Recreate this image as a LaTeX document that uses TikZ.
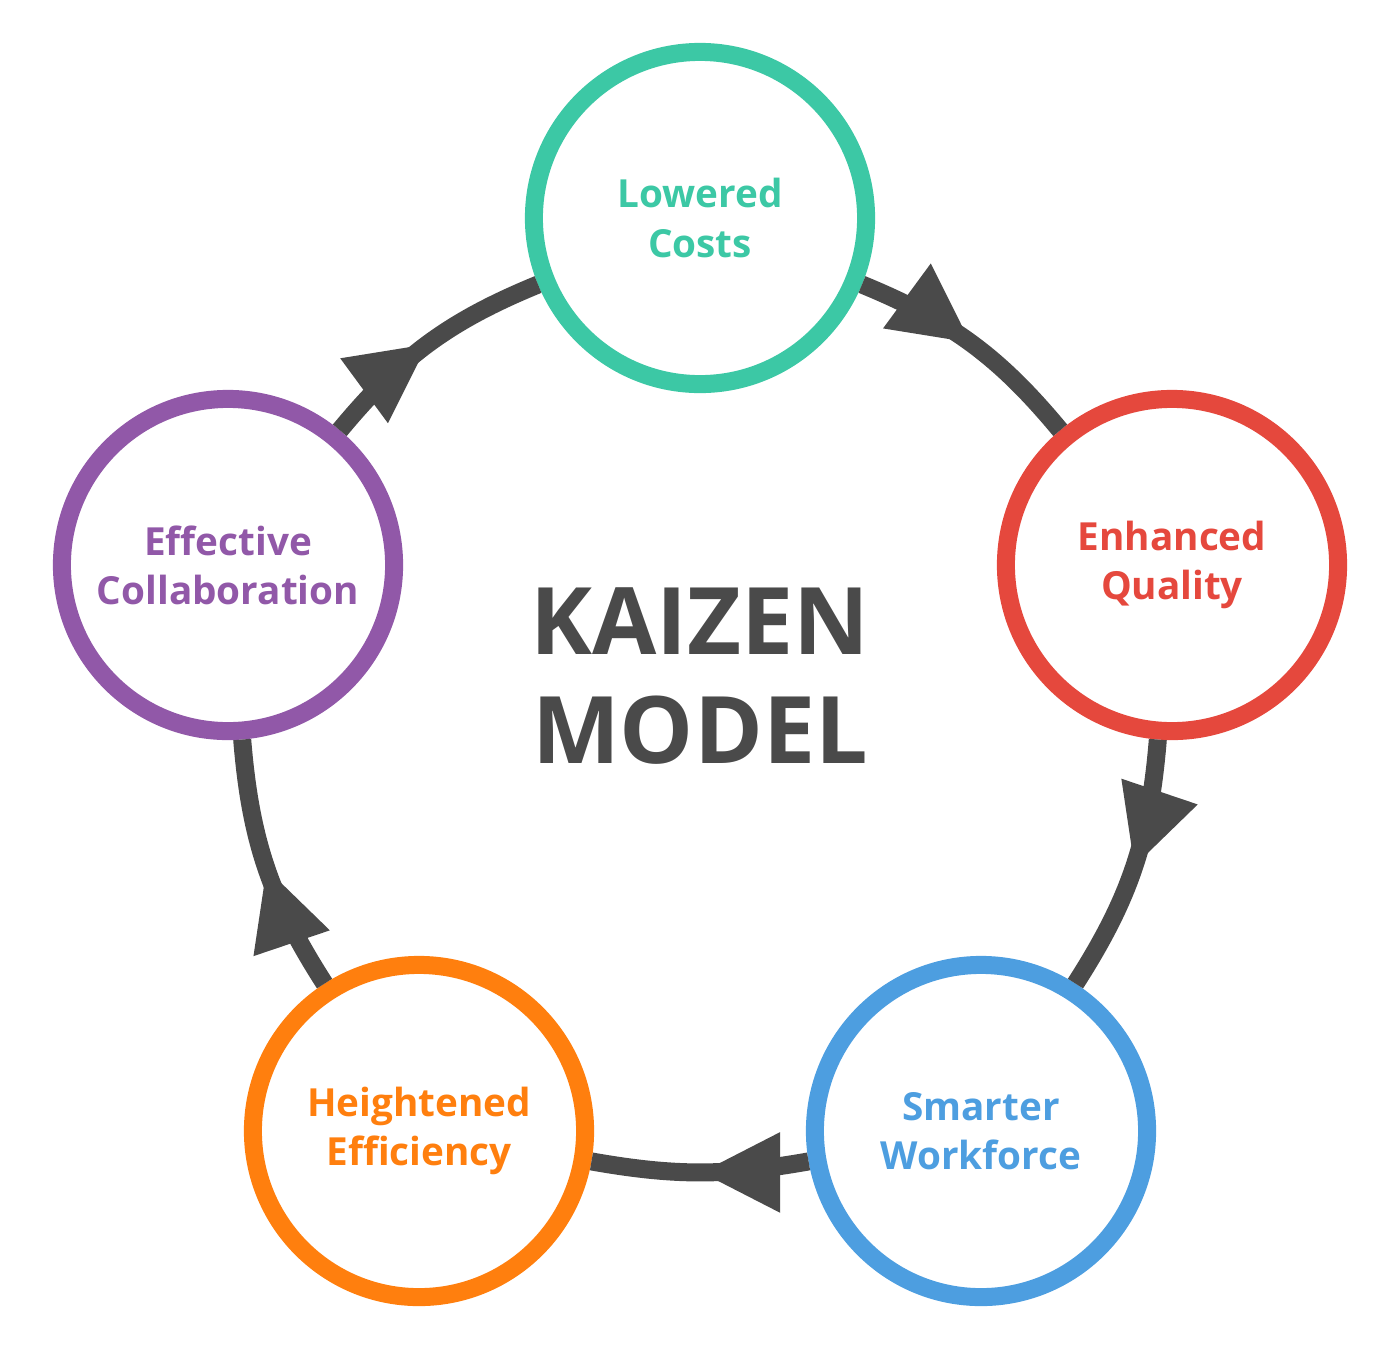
\documentclass[tikz,border=0pt]{standalone}
\usepackage{fontspec}
\setmainfont{Open Sans}
\usetikzlibrary{arrows.meta,decorations.markings}
\definecolor{cteal}{HTML}{3CC8A5}
\definecolor{cred}{HTML}{E5483D}
\definecolor{cblue}{HTML}{4D9EE0}
\definecolor{corange}{HTML}{FF7F0E}
\definecolor{cpurple}{HTML}{9158A8}
\definecolor{cdark}{HTML}{4A4A4A}
\begin{document}
\begin{tikzpicture}[x=0.01cm,y=-0.01cm,
  stage/.style={circle,draw=#1,text=#1,line width=0.18cm,fill=white,minimum size=3.32cm,inner sep=0pt,align=center,font=\fontsize{11pt}{14pt}\selectfont\bfseries},
  conn/.style={draw=cdark,line width=0.18cm,bend left=#1,
    postaction={decorate},decoration={markings,mark=at position 0.5 with {\arrow{Triangle[length=0.8cm,width=0.75cm]}}}}]
\useasboundingbox (0,0) rectangle (1400,1351);
\node[stage=cteal] (lc) at (700,218) {Lowered\\Costs};
\node[stage=cred] (eq) at (1172,565) {Enhanced\\Quality};
\node[stage=cblue] (sw) at (981,1131) {Smarter\\Workforce};
\node[stage=corange] (he) at (419,1131) {Heightened\\Efficiency};
\node[stage=cpurple] (ec) at (228,565) {Effective\\Collaboration};
\node[text=cdark,align=center,font=\fontsize{26.5pt}{31pt}\selectfont\bfseries] (title) at (700,676) {KAIZEN\\MODEL};
\path[conn=14] (lc) to (eq);
\path[conn=14] (eq) to (sw);
\path[conn=10] (sw) to (he);
\path[conn=14] (he) to (ec);
\path[conn=14] (ec) to (lc);
\end{tikzpicture}
\end{document}
